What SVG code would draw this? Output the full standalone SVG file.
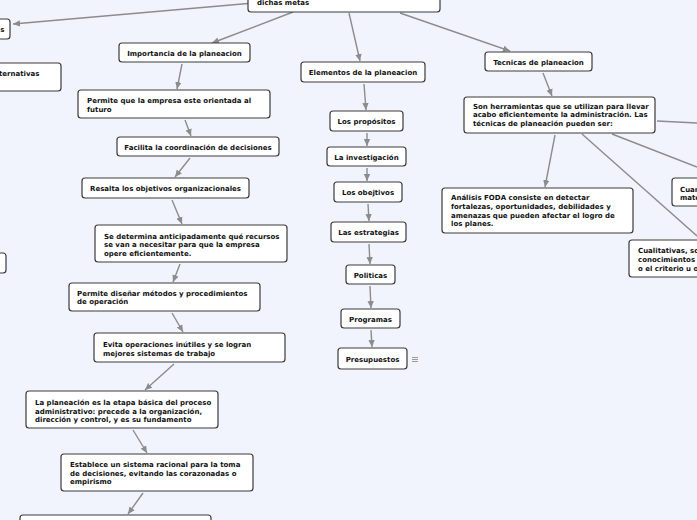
<svg xmlns="http://www.w3.org/2000/svg" width="697" height="520" viewBox="0 0 697 520">
<defs>
<marker id="ah" markerWidth="8" markerHeight="8" refX="7" refY="4" orient="auto" markerUnits="userSpaceOnUse">
<path d="M0,0.8 L7,4 L0,7.2 z" fill="#8c8c8c"/>
</marker>
</defs>
<style>
.bg{fill:#f1f4fd}
.n rect{fill:#ffffff;stroke:#3a3a3a;stroke-width:1.2}
.n text{font-family:"DejaVu Sans",Verdana,sans-serif;font-weight:bold;font-size:7px;fill:#111111}
.c{text-anchor:middle}
#connectors path{fill:none;stroke:#8c8c8c;stroke-width:1.4}
#connectors .a{marker-end:url(#ah)}
</style>
<rect class="bg" x="0" y="0" width="697" height="520"/>
<g id="connectors">
<path class="a" d="M248,3.5 L13,24"/>
<path class="a" d="M293,12 L212,43"/>
<path class="a" d="M182,64 L177,89"/>
<path class="a" d="M185,120 L191,136"/>
<path class="a" d="M190,158 L175,177"/>
<path class="a" d="M172,200 L182,224"/>
<path class="a" d="M180,264 L173,282"/>
<path class="a" d="M172,313 L183,332"/>
<path class="a" d="M174,364 L145,390"/>
<path class="a" d="M133,430 L147,453"/>
<path class="a" d="M143,493 L128,514"/>
<path class="a" d="M349,13 L360,61"/>
<path class="a" d="M364,84 L366,110"/>
<path class="a" d="M367,133 L367,146"/>
<path class="a" d="M367,168 L367,181"/>
<path class="a" d="M368,204 L369,221"/>
<path class="a" d="M369,244 L370,264"/>
<path class="a" d="M370,286 L371,308"/>
<path class="a" d="M371,330 L372,347"/>
<path class="a" d="M400,13 L510,51"/>
<path class="a" d="M543,73 L552,96"/>
<path class="a" d="M555,135 L545,187"/>
<path d="M657,121 L697,123"/>
<path d="M612,134 L697,167"/>
<path d="M582,134 L697,236"/>
</g>
<g id="root" class="n"><rect x="248" y="-30" width="192" height="42" rx="3"/><text x="257" y="5">dichas metas</text></g>
<g id="n-s" class="n"><rect x="-20" y="19" width="30" height="20" rx="3"/><text x="4.5" y="32" style="text-anchor:end">s</text></g>
<g id="n-alternativas" class="n"><rect x="-60" y="63" width="121" height="28" rx="3"/><text x="-1" y="76">ternativas</text></g>
<g id="n-left" class="n"><rect x="-60" y="253" width="66" height="20" rx="3"/></g>
<g id="importancia" class="n"><rect x="119" y="43" width="131" height="19" rx="3"/><text class="c" x="184.5" y="55.5">Importancia de la planeacion</text></g>
<g id="futuro" class="n"><rect x="78" y="90" width="192" height="28" rx="3"/><text x="87" y="102.5">Permite que la empresa este orientada al<tspan x="87" y="111.5">futuro</tspan></text></g>
<g id="facilita" class="n"><rect x="117" y="137" width="162" height="19" rx="3"/><text class="c" x="198" y="149.5">Facilita la coordinación de decisiones</text></g>
<g id="resalta" class="n"><rect x="82" y="178" width="167" height="20" rx="3"/><text class="c" x="165.5" y="190.5">Resalta los objetivos organizacionales</text></g>
<g id="determina" class="n"><rect x="95" y="225" width="192" height="37" rx="3"/><text x="104" y="238.5">Se determina anticipadamente qué recursos<tspan x="104" y="247.3">se van a necesitar para que la empresa</tspan><tspan x="104" y="256.1">opere eficientemente.</tspan></text></g>
<g id="disenar" class="n"><rect x="69" y="283" width="191" height="28" rx="3"/><text x="77" y="295.5">Permite diseñar métodos y procedimientos<tspan x="77" y="304.3">de operación</tspan></text></g>
<g id="evita" class="n"><rect x="94" y="333" width="191" height="29" rx="3"/><text x="103" y="347">Evita operaciones inútiles y se logran<tspan x="103" y="355.8">mejores sistemas de trabajo</tspan></text></g>
<g id="etapa" class="n"><rect x="26" y="391" width="192" height="37" rx="3"/><text x="35" y="405">La planeación es la etapa básica del proceso<tspan x="35" y="413.6">administrativo: precede a la organización,</tspan><tspan x="35" y="422.2">dirección y control, y es su fundamento</tspan></text></g>
<g id="establece" class="n"><rect x="61" y="454" width="192" height="37" rx="3"/><text x="70" y="467">Establece un sistema racional para la toma<tspan x="70" y="475.6">de decisiones, evitando las corazonadas o</tspan><tspan x="70" y="484.2">empirismo</tspan></text></g>
<g id="bottom" class="n"><rect x="20" y="515" width="191" height="30" rx="3"/></g>
<g id="elementos" class="n"><rect x="301" y="62" width="124" height="20" rx="3"/><text class="c" x="363" y="75">Elementos de la planeacion</text></g>
<g id="propositos" class="n"><rect x="330" y="111" width="73" height="20" rx="3"/><text class="c" x="366.5" y="124">Los propósitos</text></g>
<g id="investigacion" class="n"><rect x="327" y="147" width="79" height="19" rx="3"/><text class="c" x="366.5" y="159.5">La investigación</text></g>
<g id="objetivos" class="n"><rect x="334" y="182" width="68" height="20" rx="3"/><text class="c" x="368" y="194.5">Los obejtivos</text></g>
<g id="estrategias" class="n"><rect x="331" y="222" width="75" height="20" rx="3"/><text class="c" x="368.5" y="235">Las estrategias</text></g>
<g id="politicas" class="n"><rect x="346" y="265" width="49" height="19" rx="3"/><text class="c" x="370.5" y="277.5">Politicas</text></g>
<g id="programas" class="n"><rect x="341" y="309" width="59" height="19" rx="3"/><text class="c" x="370.5" y="321.5">Programas</text></g>
<g id="presupuestos" class="n"><rect x="338" y="348" width="69" height="21" rx="3"/><text class="c" x="372.5" y="361.5">Presupuestos</text>
<rect x="411.5" y="355.5" width="7" height="7" style="fill:#f4f4f4;stroke:none"/><path d="M412,357.5h6M412,359.5h6M412,361.5h6" style="stroke:#9a9a9a;stroke-width:1;fill:none"/></g>
<g id="tecnicas" class="n"><rect x="485" y="52" width="107" height="19" rx="3"/><text class="c" x="538.5" y="64.5">Tecnicas de planeacion</text></g>
<g id="herramientas" class="n"><rect x="464" y="97" width="191" height="36" rx="3"/><text x="473" y="108.5">Son herramientas que se utilizan para llevar<tspan x="473" y="117.3">acabo eficientemente la administración. Las</tspan><tspan x="473" y="126.1">técnicas de planeación pueden ser:</tspan></text></g>
<g id="foda" class="n"><rect x="442" y="188" width="191" height="45" rx="3"/><text x="451" y="200">Análisis FODA consiste en detectar<tspan x="451" y="208.8">fortalezas, oportunidades, debilidades y</tspan><tspan x="451" y="217.6">amenazas que pueden afectar el logro de</tspan><tspan x="451" y="226.4">los planes.</tspan></text></g>
<g id="cuantitativas" class="n"><rect x="672" y="178" width="60" height="28" rx="3"/><text x="680" y="191.5">Cuan<tspan x="680" y="200.3">mate</tspan></text></g>
<g id="cualitativas" class="n"><rect x="629" y="240" width="80" height="37" rx="3"/><text x="638" y="253">Cualitativas, so<tspan x="638" y="261.8">conocimientos</tspan><tspan x="638" y="270.6">o el criterio u o</tspan></text></g>
</svg>
